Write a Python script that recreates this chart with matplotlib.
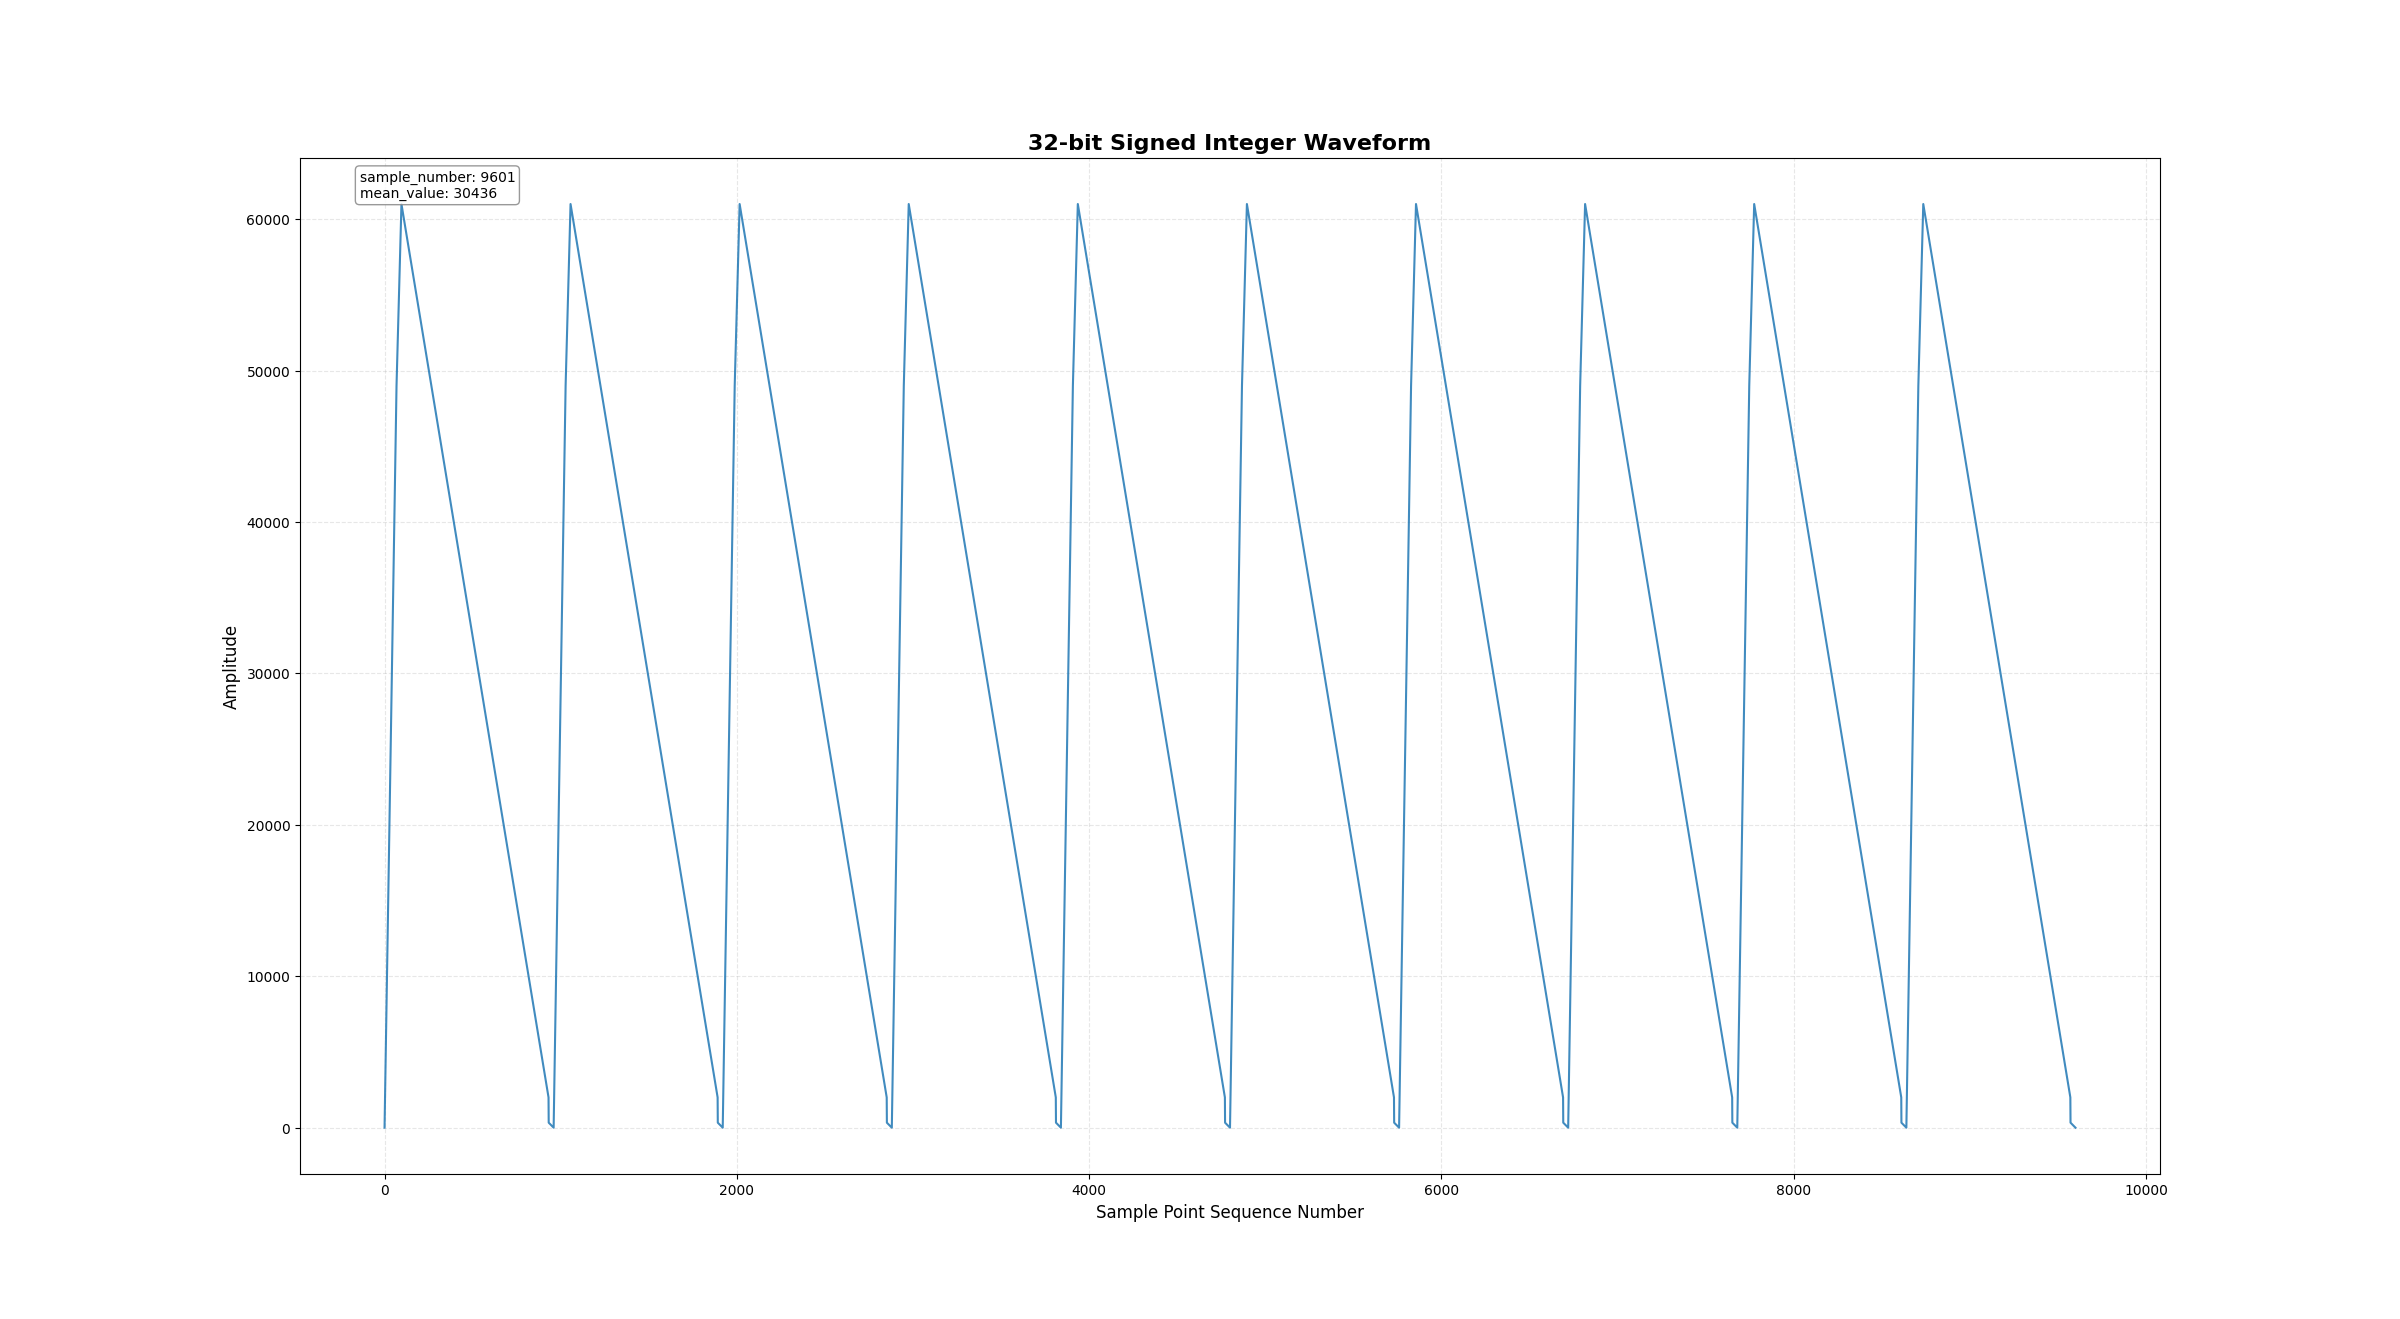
import matplotlib
matplotlib.use("Agg")
import matplotlib.pyplot as plt

# Polyline vertices of the waveform (sample index, amplitude)
sample_idx = [
    0, 68, 96, 931, 932,
    960, 1028, 1056, 1891, 1892,
    1920, 1988, 2016, 2851, 2852,
    2880, 2948, 2976, 3811, 3812,
    3840, 3908, 3936, 4771, 4772,
    4800, 4868, 4896, 5731, 5732,
    5760, 5828, 5856, 6691, 6692,
    6720, 6788, 6816, 7651, 7652,
    7680, 7748, 7776, 8611, 8612,
    8640, 8708, 8736, 9571, 9572,
    9600,
]
amplitude = [
    0, 49000, 61000, 2000, 330,
    0, 49000, 61000, 2000, 330,
    0, 49000, 61000, 2000, 330,
    0, 49000, 61000, 2000, 330,
    0, 49000, 61000, 2000, 330,
    0, 49000, 61000, 2000, 330,
    0, 49000, 61000, 2000, 330,
    0, 49000, 61000, 2000, 330,
    0, 49000, 61000, 2000, 330,
    0, 49000, 61000, 2000, 330,
    0,
]
sample_number = 9601
mean_value = 30436

fig = plt.figure(figsize=(24, 13.195), dpi=100)
ax = fig.add_subplot(111)
ax.plot(sample_idx, amplitude, color="#1f77b4", linewidth=1.5, alpha=0.85)
ax.set_title("32-bit Signed Integer Waveform", fontsize=16, fontweight="bold")
ax.set_xlabel("Sample Point Sequence Number", fontsize=12)
ax.set_ylabel("Amplitude", fontsize=12)
ax.grid(True, linestyle="--", alpha=0.3)
ax.text(0.032, 0.988, f"sample_number: {sample_number}\nmean_value: {mean_value}",
        transform=ax.transAxes, va="top", ha="left", fontsize=10,
        bbox=dict(boxstyle="round", facecolor="white", alpha=0.8, edgecolor="gray"))
fig.savefig("out.png", dpi=100)
